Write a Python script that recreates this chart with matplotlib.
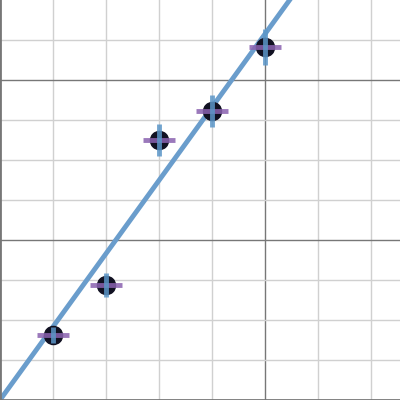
import matplotlib
matplotlib.use('Agg')
import matplotlib.pyplot as plt
import numpy as np

# data
x_vals = [1, 2, 3, 4, 5]
y_vals = [1.63, 2.88, 6.5, 7.23, 8.83]
x_err = [0.3, 0.3, 0.3, 0.3, 0.3]
y_err = [0.2, 0.3, 0.4, 0.4, 0.45]
slope = 1.83

fig = plt.figure(figsize=(4, 4), dpi=100)
ax = fig.add_axes([0, 0, 1, 1])
ax.set_xlim(0, 400 / 53)
ax.set_ylim(0, 10)

for gx in np.arange(1, 8):
    ax.axvline(gx, color='#d0d0d0' if gx != 5 else '#777777', lw=1, zorder=0)
for gy in np.arange(1, 10):
    ax.axhline(gy, color='#d0d0d0' if gy % 4 else '#777777', lw=1, zorder=0)

xl = np.array([0, 8])
ax.plot(xl, slope * xl, color='#6a9dcc', lw=3.5, zorder=2)

ax.scatter(x_vals, y_vals, s=170, color='#111122', zorder=3)
ax.errorbar(x_vals, y_vals, xerr=x_err, fmt='none', ecolor='#8a62b0', elinewidth=3.5, alpha=0.85, zorder=4)
ax.errorbar(x_vals, y_vals, yerr=y_err, fmt='none', ecolor='#5b96c8', elinewidth=3.5, alpha=0.85, zorder=4)

ax.set_xticks([])
ax.set_yticks([])
for s in ax.spines.values():
    s.set_visible(False)
ax.axvline(0, color='#777777', lw=2)
ax.axhline(0, color='#777777', lw=2)

plt.savefig('out.png', dpi=100)
